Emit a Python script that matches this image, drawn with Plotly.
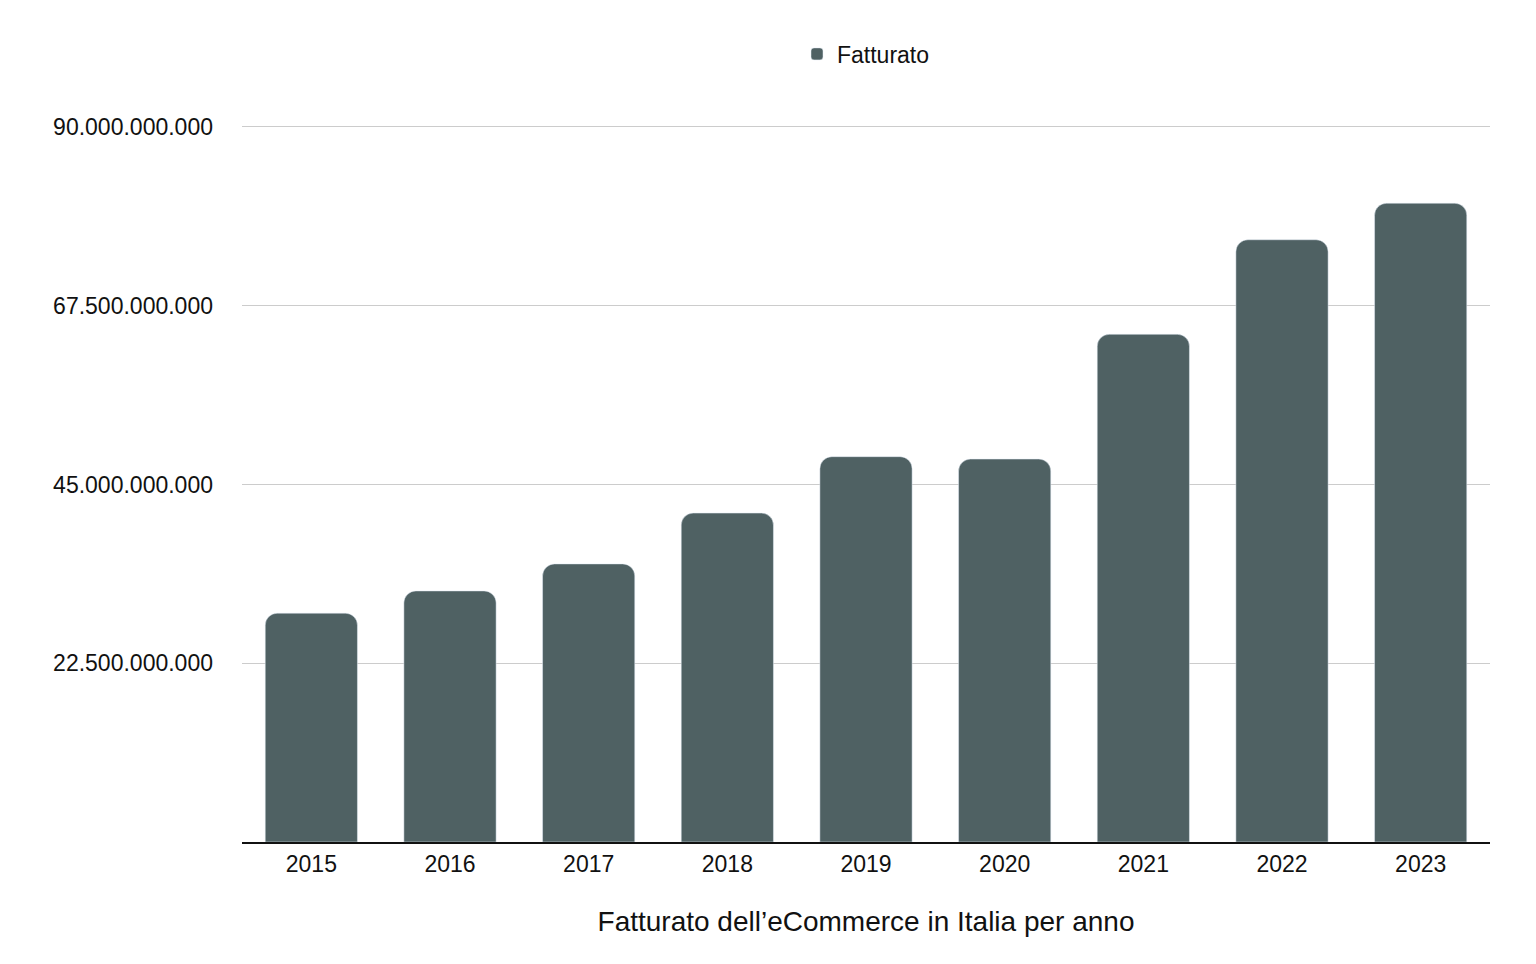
import plotly.graph_objects as go

years = ["2015","2016","2017","2018","2019","2020","2021","2022","2023"]
fatturato = [28.8e9, 31.6e9, 35.0e9, 41.4e9, 48.5e9, 48.2e9, 63.9e9, 75.8e9, 80.4e9]
tick_vals = [22.5e9, 45e9, 67.5e9, 90e9]
tick_text = ["22.500.000.000", "45.000.000.000", "67.500.000.000", "90.000.000.000"]

fig = go.Figure(go.Bar(x=years, y=fatturato, name="Fatturato", marker_color="#4f6163",
                       showlegend=True))
fig.update_layout(
    width=1536, height=964, plot_bgcolor="white", paper_bgcolor="white",
    margin=dict(l=234, r=54, t=111, b=130),
    font=dict(family="Liberation Sans, Arial", size=23, color="#111"),
    bargap=0.335, barcornerradius=12,
    legend=dict(orientation="h", x=0.5, xanchor="center", y=1.09, yanchor="middle",
                font=dict(size=23), itemwidth=30),
    xaxis=dict(title=dict(text="Fatturato dell’eCommerce in Italia per anno", standoff=36),
               showline=True, linecolor="#111", linewidth=2, ticks=""),
    yaxis=dict(range=[0, 91e9], tickvals=tick_vals, ticktext=tick_text,
               gridcolor="#cccccc", zeroline=False, ticks="", ticklabelstandoff=28),
)
fig.write_html("out.html")
